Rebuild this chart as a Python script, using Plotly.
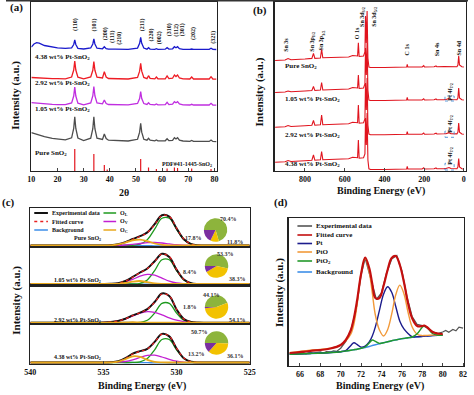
import plotly.graph_objects as go

W, H = 474, 395
def px(x): return x / W
def py(y): return 1 - y / H

FONT = "Liberation Serif"

# ---------------- (a) XRD ----------------
two_theta = [10, 11, 12, 13, 15, 18, 20, 23, 25.4, 26.2, 26.6, 27.0, 27.8, 30, 32.7, 33.5, 33.9, 34.3, 35.1,
             37.2, 37.9, 38.6, 39.5, 42, 47, 50.6, 51.4, 51.8, 52.2, 53.0, 54.2, 54.8, 55.4, 57.2, 57.8, 58.4,
             61.2, 61.9, 62.6, 64.0, 64.7, 65.3, 65.9, 66.6, 68, 70.6, 71.3, 72.0, 78.0, 78.7, 79.4, 80.8]
xrd_pure = [38.3, 37.5, 36.6, 35.8, 34.3, 32.6, 31.7, 31.1, 33.2, 42.5, 54.3, 42.5, 33.0, 30.5, 32.8, 42.3, 54.3, 42.3, 32.8,
            31.5, 37.0, 32.5, 30.8, 30.4, 30.0, 31.7, 38.8, 47.7, 38.8, 31.7, 30.8, 32.7, 30.8, 30.1, 31.0, 30.1,
            30.2, 32.3, 30.3, 30.6, 33.3, 32.0, 33.3, 30.8, 30.0, 29.6, 30.5, 29.6, 29.6, 31.0, 29.6, 29.3]
xrd_105 = [68.3, 68.0, 67.7, 67.4, 67.0, 66.6, 66.4, 66.3, 68.1, 75.0, 84.0, 75.0, 67.8, 66.2, 68.0, 75.2, 84.5, 75.2, 68.0,
           67.2, 71.0, 67.5, 66.5, 66.3, 66.1, 67.5, 72.5, 79.3, 72.5, 67.5, 66.6, 68.3, 66.6, 66.2, 67.0, 66.2,
           66.3, 68.7, 66.4, 66.8, 69.3, 68.3, 69.3, 67.0, 66.2, 66.0, 66.7, 66.0, 66.0, 67.7, 66.0, 65.8]
xrd_292 = [93.5, 93.3, 93.1, 92.9, 92.6, 92.4, 92.3, 92.2, 94.0, 101.0, 110.0, 101.0, 93.8, 92.2, 94.0, 100.7, 109.3, 100.7, 93.8,
           93.0, 99.3, 94.0, 92.5, 92.2, 92.0, 93.6, 99.8, 107.7, 99.8, 93.6, 92.4, 95.3, 92.6, 92.1, 94.0, 92.2,
           92.2, 95.0, 92.4, 92.8, 96.0, 94.5, 96.0, 93.0, 92.1, 92.0, 94.0, 92.0, 92.0, 94.3, 92.0, 91.8]
xrd_438 = [124.0, 127.0, 128.3, 127.8, 125.5, 123.8, 123.2, 122.7, 123.2, 126.5, 131.0, 126.5, 122.7, 122.0, 123.0, 127.0, 132.0, 127.0, 122.8,
           122.2, 124.3, 122.4, 121.9, 121.8, 121.7, 122.9, 127.7, 133.7, 127.7, 122.9, 121.8, 123.3, 121.9, 121.7, 122.3, 121.7,
           121.8, 123.3, 121.9, 122.2, 124.3, 123.3, 124.3, 122.3, 121.7, 121.6, 122.0, 121.6, 121.6, 122.7, 121.6, 121.5]
pdf_2theta = [26.6, 33.9, 37.9, 39.0, 51.8, 54.8, 57.8, 61.9, 64.7, 65.9, 71.3, 78.7]
pdf_height = [22, 17, 6, 1.5, 12, 3.5, 2, 2.5, 3.5, 3, 2.5, 2]
miller_labels = ["(110)", "(101)", "(200)", "(111)", "(210)", "(211)", "(220)", "(002)", "(310)", "(112)", "(301)", "(202)", "(321)"]
xrd_ticks = [10, 20, 30, 40, 50, 60, 70, 80]

# ---------------- (b) XPS survey ----------------
survey_be = [950, 900, 885, 870, 800, 765, 757, 750, 722, 716, 710, 650, 580, 560, 540, 535, 531, 527, 505, 498, 495, 491,
             487, 483, 478, 470, 400, 300, 288, 285, 282, 210, 202, 198, 150, 140, 136, 100, 90, 75, 70, 65, 35, 30, 26, 22, 10, 0]
survey_pure = [110.5, 111, 112.5, 111.2, 112, 112.6, 117.7, 112.6, 113, 121.7, 113.2, 113.5, 114, 115.5, 114.5, 115, 128.3, 114.5, 115, 119, 155, 128,
               160, 113, 104, 103.5, 103.5, 103.8, 104, 106.7, 104, 104, 105.3, 104, 104.2, 105, 104.2, 104.4, 104.3, 104.6, 104.5, 104.4, 104.3, 106, 115.3, 106, 104.2, 104]
survey_105 = [78.5, 79, 80, 79.2, 80, 80.5, 84.5, 80.5, 81, 88.5, 81, 81.5, 82, 83.5, 82.5, 83, 96, 82.5, 83, 87, 123, 96,
              128, 81, 71, 70.5, 70.5, 70.8, 71, 73.5, 71, 71, 72.2, 71, 71.2, 72, 71.2, 71.4, 71.5, 72.5, 72, 71.5, 71.3, 73, 83, 73, 71.2, 71]
survey_292 = [43.8, 44.3, 45.5, 44.5, 45.3, 45.8, 50.5, 45.8, 46.2, 56, 46.3, 46.8, 47.3, 48.8, 47.8, 48.3, 66, 47.8, 48.3, 52, 88, 61,
              93, 46, 37, 36.3, 36.3, 36.6, 36.8, 39.5, 36.8, 36.8, 38, 36.8, 37, 37.8, 37, 37.2, 37.3, 38.3, 37.8, 37.3, 37.1, 38.8, 48, 38.8, 37, 36.8]
survey_438 = [8.8, 9.3, 10.5, 9.5, 10.3, 10.8, 16, 10.8, 11.2, 19.5, 11.3, 11.8, 12.3, 13.8, 12.8, 13.3, 31, 12.8, 13.3, 17, 53, 26,
              58, 11, 2.2, 1.5, 1.5, 1.8, 2, 4.5, 2, 2, 3.2, 2, 2.2, 3, 2.2, 2.4, 2.5, 3.5, 3, 2.5, 2.3, 4, 12.5, 4, 2.2, 2]
survey_ticks = [800, 600, 400, 200, 0]

# ---------------- (c) O 1s ----------------
o1s_be = [540, 537, 535.5, 535, 534.5, 534, 533.5, 533, 532.5, 532, 531.5, 531, 530.5, 530, 529.5, 529, 528.5, 528, 527, 525]
o1s_background = [1.6, 1.6, 1.6, 1.6, 1.6, 1.6, 1.5, 1.5, 1.4, 1.3, 1.2, 1.1, 1.0, 1.0, 1.0, 1.0, 1.0, 1.0, 1.0, 1.0]
pure_exp = [1.5, 1.5, 1.5, 1.5, 1.75, 2.7, 4.9, 8.0, 10.8, 14.6, 22.8, 31.8, 30.4, 18.6, 7.7, 2.9, 1.7, 1.5, 1.5, 1.5]
pure_fit = [1.5, 1.5, 1.5, 1.5, 1.7, 2.6, 4.7, 7.7, 10.6, 14.4, 22.4, 31.4, 30.6, 18.9, 7.9, 2.9, 1.7, 1.5, 1.5, 1.5]
pure_ol = [1.5, 1.5, 1.5, 1.5, 1.5, 1.5, 1.5, 1.7, 2.8, 7.4, 17.8, 28.7, 28.7, 17.8, 7.4, 2.8, 1.7, 1.5, 1.5, 1.5]
pure_ov = [1.5, 1.5, 1.5, 1.5, 1.55, 1.7, 2.0, 2.6, 3.5, 4.3, 4.5, 4.0, 3.1, 2.3, 1.8, 1.6, 1.5, 1.5, 1.5, 1.5]
pure_oc = [1.5, 1.5, 1.5, 1.5, 1.7, 2.55, 4.4, 6.7, 7.45, 5.9, 3.5, 2.1, 1.6, 1.5, 1.5, 1.5, 1.5, 1.5, 1.5, 1.5]
pt105_exp = [1.5, 1.5, 1.5, 1.5, 1.65, 2.35, 4.5, 8.55, 13.0, 17.0, 24.3, 31.7, 28.6, 15.9, 5.9, 2.2, 1.55, 1.5, 1.5, 1.5]
pt105_fit = [1.5, 1.5, 1.5, 1.5, 1.6, 2.3, 4.4, 8.3, 12.8, 16.8, 24.0, 31.5, 28.9, 16.2, 6.1, 2.3, 1.6, 1.5, 1.5, 1.5]
pt105_ol = [1.5, 1.5, 1.5, 1.5, 1.5, 1.5, 1.5, 1.55, 2.2, 5.6, 14.9, 25.7, 25.7, 14.9, 5.6, 2.2, 1.55, 1.5, 1.5, 1.5]
pt105_ov = [1.5, 1.5, 1.5, 1.5, 1.65, 2.1, 3.5, 6.1, 9.3, 11.1, 10.3, 7.4, 4.4, 2.5, 1.8, 1.55, 1.5, 1.5, 1.5, 1.5]
pt105_oc = [1.5, 1.5, 1.5, 1.5, 1.5, 1.7, 2.5, 3.9, 4.5, 3.3, 2.05, 1.6, 1.5, 1.5, 1.5, 1.5, 1.5, 1.5, 1.5, 1.5]
pt292_exp = [1.3, 1.3, 1.35, 1.5, 2.0, 3.1, 5.3, 8.6, 11.3, 14.9, 22.0, 30.5, 28.0, 14.5, 4.9, 2.0, 1.4, 1.3, 1.3, 1.3]
pt292_fit = [1.3, 1.3, 1.35, 1.5, 2.0, 3.0, 5.2, 8.4, 11.2, 14.7, 21.6, 30.0, 28.2, 14.8, 5.0, 2.0, 1.4, 1.3, 1.3, 1.3]
pt292_ol = [1.3, 1.3, 1.3, 1.3, 1.3, 1.3, 1.3, 1.3, 1.6, 3.7, 10.9, 20.6, 20.6, 10.9, 3.7, 1.6, 1.3, 1.3, 1.3, 1.3]
pt292_ov = [1.3, 1.3, 1.35, 1.5, 2.0, 3.1, 5.1, 8.0, 10.8, 12.3, 11.6, 9.2, 6.2, 3.8, 2.3, 1.65, 1.4, 1.3, 1.3, 1.3]
pt292_oc = [1.3, 1.3, 1.3, 1.3, 1.3, 1.35, 1.5, 1.9, 1.5, 1.35, 1.3, 1.3, 1.3, 1.3, 1.3, 1.3, 1.3, 1.3, 1.3, 1.3]
pt438_exp = [1.5, 1.5, 1.5, 1.5, 1.7, 2.7, 5.8, 10.3, 12.9, 15.2, 22.1, 30.1, 27.6, 15.5, 5.8, 2.2, 1.56, 1.5, 1.5, 1.5]
pt438_fit = [1.5, 1.5, 1.5, 1.5, 1.7, 2.6, 5.6, 10.0, 12.7, 15.0, 21.8, 29.8, 27.9, 15.8, 6.0, 2.3, 1.6, 1.5, 1.5, 1.5]
pt438_ol = [1.5, 1.5, 1.5, 1.5, 1.5, 1.5, 1.5, 1.56, 2.2, 5.4, 14.2, 24.5, 24.5, 14.2, 5.4, 2.2, 1.56, 1.5, 1.5, 1.5]
pt438_ov = [1.5, 1.5, 1.5, 1.5, 1.56, 1.8, 2.5, 4.1, 6.55, 8.6, 8.8, 7.0, 4.6, 2.76, 1.9, 1.58, 1.5, 1.5, 1.5, 1.5]
pt438_oc = [1.5, 1.5, 1.5, 1.5, 1.6, 2.4, 4.8, 7.65, 7.2, 4.2, 2.1, 1.57, 1.5, 1.5, 1.5, 1.5, 1.5, 1.5, 1.5, 1.5]
o1s_ticks = [540, 535, 530, 525]
pie_ol = [70.4, 53.3, 44.1, 50.7]
pie_oc = [11.8, 38.3, 54.1, 36.1]
pie_ov = [17.8, 8.4, 1.8, 13.2]

# ---------------- (d) Pt 4f ----------------
pt4f_fit_be = [65, 67, 69, 70, 70.5, 71, 71.3, 71.6, 72, 72.4, 72.8, 73.1, 73.4, 73.8, 74.2, 74.6, 75, 75.4, 75.8,
               76.2, 76.6, 77, 77.5, 78, 78.2, 78.5, 79, 79.5, 80]
pt4f_background = [11.7, 12.5, 13.5, 14.3, 15.0, 15.8, 16.3, 16.8, 17.7, 18.6, 19.6, 20.4, 21.2, 22.2, 23.2, 24.3, 25.3, 26.1, 26.9,
                   27.6, 28.2, 28.7, 29.2, 29.6, 29.8, 30.0, 30.4, 30.7, 31.0]
pt4f_pt = [11.7, 12.5, 13.5, 14.3, 15.5, 20.6, 23.3, 21.6, 18.9, 19.9, 24.0, 29.9, 39.1, 55.6, 71.7, 79.3, 73.8, 59.5, 44.8,
           37.1, 32.6, 29.3, 29.2, 29.6, 29.8, 30.0, 30.4, 30.7, 31.0]
pt4f_pto = [13.3, 15.7, 17.7, 21.0, 25.0, 32.0, 42.0, 60.5, 92.5, 107.7, 94.0, 73.0, 51.0, 36.0, 30.0, 36.3, 51.9, 71.2, 80.9,
            72.3, 54.0, 39.2, 31.7, 30.4, 30.5, 30.6, 30.9, 31.1, 31.3]
pt4f_pto2 = [11.7, 12.5, 13.5, 14.3, 15.0, 15.8, 16.3, 16.8, 17.7, 19.0, 23.0, 26.0, 24.6, 22.6, 23.2, 24.3, 25.3, 26.1, 26.9,
             27.6, 28.2, 29.0, 32.2, 38.8, 40.0, 38.2, 32.5, 30.85, 31.0]
pt4f_fit = [13.0, 15.0, 17.5, 21.0, 26.0, 36.0, 48.0, 65.0, 92.0, 108.5, 98.0, 82.0, 68.0, 68.0, 80.0, 96.0, 108.0, 110.0, 101.0,
            84.0, 63.0, 48.0, 40.0, 40.0, 40.5, 38.5, 34.0, 32.5, 32.0]
pt4f_exp_be = [65, 65.3, 65.6, 66, 66.3, 66.6, 67, 67.3, 67.6, 68, 68.3, 68.6, 69, 69.3, 69.6, 70, 70.5, 71, 71.5, 72, 72.4,
               73, 73.5, 74, 74.5, 75, 75.5, 76, 76.5, 77, 77.5, 78, 78.5, 79, 79.5, 80, 80.3, 80.6, 81, 81.3, 81.6, 82]
pt4f_exp = [12.3, 13.4, 12.0, 12.9, 13.6, 12.2, 13.9, 12.8, 13.5, 14.2, 13.0, 14.4, 14.0, 15.2, 14.6, 17.8, 24.5, 35.5, 56, 91, 108,
            86, 66.5, 73, 93, 107, 110.5, 95, 69, 49.5, 41.5, 40.5, 38, 34.5, 32.5, 34, 35.5, 33.8, 36.5, 35.2, 38.8, 37.8]
pt4f_ticks = [66, 68, 70, 72, 74, 76, 78, 80, 82]

fig = go.Figure()

def line(x, y, xa, ya, color, width=1.3, dash=None, shape="linear"):
    fig.add_trace(go.Scatter(x=x, y=y, mode="lines", xaxis=xa, yaxis=ya, showlegend=False, hoverinfo="skip",
                             line=dict(color=color, width=width, dash=dash, shape=shape)))

# (a)
fig.add_trace(go.Bar(x=pdf_2theta, y=pdf_height, width=0.45, xaxis="x", yaxis="y", showlegend=False,
                     marker=dict(color="#e3121b", line=dict(width=0))))
line(two_theta, xrd_pure, "x", "y", "#4d4d4d")
line(two_theta, xrd_105, "x", "y", "#c02ee0")
line(two_theta, xrd_292, "x", "y", "#ee1c24")
line(two_theta, xrd_438, "x", "y", "#1a1acc")

# (b)
for s in [survey_pure, survey_105, survey_292, survey_438]:
    line(survey_be, s, "x2", "y2", "#e0141e", width=1.1)

# (c)
C_BG, C_OL, C_OV, C_OC = "#3d8ee8", "#1e9a1e", "#c21fd2", "#e8a81c"
sets = [(pure_exp, pure_fit, pure_ol, pure_ov, pure_oc),
        (pt105_exp, pt105_fit, pt105_ol, pt105_ov, pt105_oc),
        (pt292_exp, pt292_fit, pt292_ol, pt292_ov, pt292_oc),
        (pt438_exp, pt438_fit, pt438_ol, pt438_ov, pt438_oc)]
for i, (e, f, ol, ov, oc) in enumerate(sets):
    xa, ya = f"x{3+i}", f"y{3+i}"
    line(o1s_be, o1s_background, xa, ya, C_BG, 1.3, shape="spline")
    line(o1s_be, ol, xa, ya, C_OL, 1.3, shape="spline")
    line(o1s_be, ov, xa, ya, C_OV, 1.3, shape="spline")
    line(o1s_be, e, xa, ya, "#111111", 2.0, shape="spline")
    line(o1s_be, f, xa, ya, "#e82020", 1.2, dash="dot", shape="spline")
    line(o1s_be, oc, xa, ya, C_OC, 1.8, shape="spline")

# pies
pie_centers = [(215, 230), (216, 266), (216, 307), (216, 343)]
for i, (cx, cy) in enumerate(pie_centers):
    r = 12
    fig.add_trace(go.Pie(values=[pie_ol[i], pie_oc[i], pie_ov[i]], sort=False, direction="clockwise", rotation=270,
                         textinfo="none", hoverinfo="skip", showlegend=False,
                         marker=dict(colors=["#8db43c", "#f2c200", "#7a2fa0"], line=dict(width=0)),
                         domain=dict(x=[px(cx - r), px(cx + r)], y=[py(cy + r), py(cy - r)])))

# (d)
line(pt4f_exp_be, pt4f_exp, "x7", "y7", "#555555", 1.3)
line(pt4f_fit_be, pt4f_background, "x7", "y7", "#3d8ee8", 1.5, shape="spline")
line(pt4f_fit_be, pt4f_pt, "x7", "y7", "#1c1c8c", 1.4, shape="spline")
line(pt4f_fit_be, pt4f_pto, "x7", "y7", "#f29a3a", 1.4, shape="spline")
line(pt4f_fit_be, pt4f_pto2, "x7", "y7", "#22992a", 1.4, shape="spline")
line(pt4f_fit_be, pt4f_fit, "x7", "y7", "#c40f0f", 2.2, shape="spline")

frame = dict(showline=True, linecolor="#222222", linewidth=1.3, mirror=True, showgrid=False, zeroline=False)
tickf = dict(family=FONT, size=8, color="#111111", weight="bold")
noy = dict(showticklabels=False, ticks="", **frame)
xt = dict(ticks="inside", ticklen=3, tickfont=tickf, ticklabeloverflow="allow")

layout = dict(
    width=W, height=H, margin=dict(l=0, r=0, t=0, b=0), autosize=False,
    paper_bgcolor="white", plot_bgcolor="white", showlegend=False,
    font=dict(family=FONT, size=8, color="#111111"),
    xaxis=dict(domain=[px(26), px(216)], range=[10, 80.8], tickvals=xrd_ticks, anchor="y", **xt, **frame),
    yaxis=dict(domain=[py(171), py(1.5)], range=[0, 169.5], anchor="x", **noy),
    xaxis2=dict(domain=[px(275.5), px(472)], range=[953, -11], tickvals=survey_ticks, anchor="y2", **xt, **frame),
    yaxis2=dict(domain=[py(171), py(1.5)], range=[0, 169.5], anchor="x2", **noy),
    xaxis7=dict(domain=[px(290), px(470)], range=[64.9, 82.1], tickvals=pt4f_ticks, anchor="y7", **xt, **frame),
    yaxis7=dict(domain=[py(366), py(218)], range=[0, 148], anchor="x7", **noy),
)
sub_bounds = [(208, 247), (247, 285.5), (285.5, 324), (324, 364)]
for i, (top, bot) in enumerate(sub_bounds):
    last = i == 3
    xd = dict(xt)
    xd["ticks"] = "inside" if last else ""
    layout[f"xaxis{3+i}"] = dict(domain=[px(25), px(250)], range=[540, 525], anchor=f"y{3+i}",
                                 tickvals=o1s_ticks if last else [], showticklabels=last, **xd, **frame)
    layout[f"yaxis{3+i}"] = dict(domain=[py(bot), py(top)], range=[0, bot - top], anchor=f"x{3+i}", **noy)

fig.update_layout(**layout)

ann = []
def A(text, x, y, size=7, xref="paper", yref="paper", xanchor="center", yanchor="middle", angle=0, color="#111111"):
    ann.append(dict(text=text, x=x, y=y, xref=xref, yref=yref, xanchor=xanchor, yanchor=yanchor, textangle=angle,
                    showarrow=False, font=dict(family=FONT, size=size, color=color, weight="bold")))

# panel letters
A("(a)", px(11), py(8), 11)
A("(b)", px(261), py(10), 11)
A("(c)", px(3), py(203), 11)
A("(d)", px(282), py(203), 11)

# axis titles
A("Intensity (a.u.)", px(10), py(95), 11, angle=-90)
A("Intensity (a.u.)", px(260), py(92), 11, angle=-90)
A("Intensity (a.u.)", px(10), py(300), 11, angle=-90)
A("Intensity (a.u.)", px(280), py(292), 11, angle=-90)
A("2θ", px(121), py(193), 10)
A("Binding Energy (eV)", px(385), py(191), 10)
A("Binding Energy (eV)", px(140), py(386), 10)
A("Binding Energy (eV)", px(384), py(386), 10)

# (a) labels
for t, y in [("4.38 wt% Pt-SnO<sub>2</sub>", 114), ("2.92 wt% Pt-SnO<sub>2</sub>", 88),
             ("1.05 wt% Pt-SnO<sub>2</sub>", 62), ("Pure SnO<sub>2</sub>", 18)]:
    A(t, 10.7, y, 7, "x", "y", xanchor="left")
A("PDF#41-1445-SnO<sub>2</sub>", 80, 7, 6, "x", "y", xanchor="right")
miller_pos = [(26.7, 146), (34.1, 146), (38.3, 137), (40.8, 134), (43.6, 132.5), (52.4, 146), (55.6, 136),
              (58.9, 133), (62.7, 141), (65.2, 141), (67.7, 141), (72.0, 137.5), (79.4, 134)]
for t, (x, y) in zip(miller_labels, miller_pos):
    A(t, x, y, 6, "x", "y", angle=-90)

# (b) labels
for t, y in [("Pure SnO<sub>2</sub>", 105), ("1.05 wt% Pt-SnO<sub>2</sub>", 72),
             ("2.92 wt% Pt-SnO<sub>2</sub>", 36), ("4.38 wt% Pt-SnO<sub>2</sub>", 7)]:
    A(t, 909, y, 7, "x2", "y2", xanchor="left")
for t, x, y in [("Sn 3s", 896, 126), ("Sn 3p<sub>1/2</sub>", 766, 129), ("Sn 3p<sub>3/2</sub>", 717, 131),
                ("O 1s", 537, 138), ("Sn 3d<sub>3/2</sub>", 513, 154), ("Sn 3d<sub>5/2</sub>", 453, 154),
                ("C 1s", 284, 122), ("Sn 4s", 134, 122), ("Sn 4d", 27, 123)]:
    A(t, x, y, 6, "x2", "y2", angle=-90)
for y in [79, 47, 15]:
    A("Pt 4f<sub>7/2</sub>", 71, y, 6, "x2", "y2", angle=-90)

# (c) labels
for i, (t, y) in enumerate([("Pure SnO<sub>2</sub>", 9), ("1.05 wt% Pt-SnO<sub>2</sub>", 5),
                            ("2.92 wt% Pt-SnO<sub>2</sub>", 4), ("4.38 wt% Pt-SnO<sub>2</sub>", 7)]):
    A(t, 535.0, y, 6, f"x{3+i}", f"y{3+i}", xanchor="right")
for t, x, y in [("70.4%", 228, 219), ("17.8%", 192, 238), ("11.8%", 235, 242),
                ("53.3%", 225, 254), ("8.4%", 189, 272), ("38.3%", 238, 279),
                ("44.1%", 211, 295), ("1.8%", 189, 307), ("54.1%", 238, 320),
                ("50.7%", 199, 332), ("13.2%", 195, 354), ("36.1%", 235, 356)]:
    A(t, px(x), py(y), 6, color="#333333")

# manual legends
shapes = []
def leg(x0, x1, y, color, width=1.5, dash=None):
    shapes.append(dict(type="line", xref="paper", yref="paper", x0=px(x0), x1=px(x1), y0=py(y), y1=py(y),
                       line=dict(color=color, width=width, dash=dash)))
for (t, c, w, d), y in zip([("Experimental data", "#111111", 2, None), ("Fitted curve", "#e82020", 1.3, "dot"),
                           ("Background", C_BG, 1.5, None)], [213, 221.5, 230]):
    leg(29, 43, y, c, w, d)
    A(t, px(45), py(y), 6, xanchor="left")
for (t, c), y in zip([("O<sub>L</sub>", C_OL), ("O<sub>V</sub>", C_OV), ("O<sub>C</sub>", C_OC)], [213, 221.5, 230]):
    leg(100, 113, y, c, 1.5)
    A(t, px(115), py(y), 6, xanchor="left")
for (t, c), y in zip([("Experimental data", "#555555"), ("Fitted curve", "#c40f0f"), ("Pt", "#1c1c8c"),
                      ("PtO", "#f29a3a"), ("PtO<sub>2</sub>", "#22992a"), ("Background", "#3d8ee8")],
                     [226, 235, 243.5, 252, 261, 272]):
    leg(299, 314, y, c, 1.6)
    A(t, px(316), py(y), 7, xanchor="left")

# dashed boxes around Pt 4f in (b)
for y0, y1 in [(70, 75), (33.7, 40), (1, 7.7)]:
    shapes.append(dict(type="rect", xref="x2", yref="y2", x0=95, x1=49, y0=y0, y1=y1,
                       line=dict(color="#4a8fd6", width=0.9, dash="dot")))
shapes.append(dict(type="rect", xref="paper", yref="paper", x0=0, x1=1, y0=py(1.5), y1=1,
                   fillcolor="#333333", line=dict(width=0)))

fig.update_layout(annotations=ann, shapes=shapes)
fig.write_html("out.html", config={"displayModeBar": False, "staticPlot": True},
               post_script="document.body.style.margin='0px';document.body.style.overflow='hidden';"
                           "document.documentElement.style.overflow='hidden';")
